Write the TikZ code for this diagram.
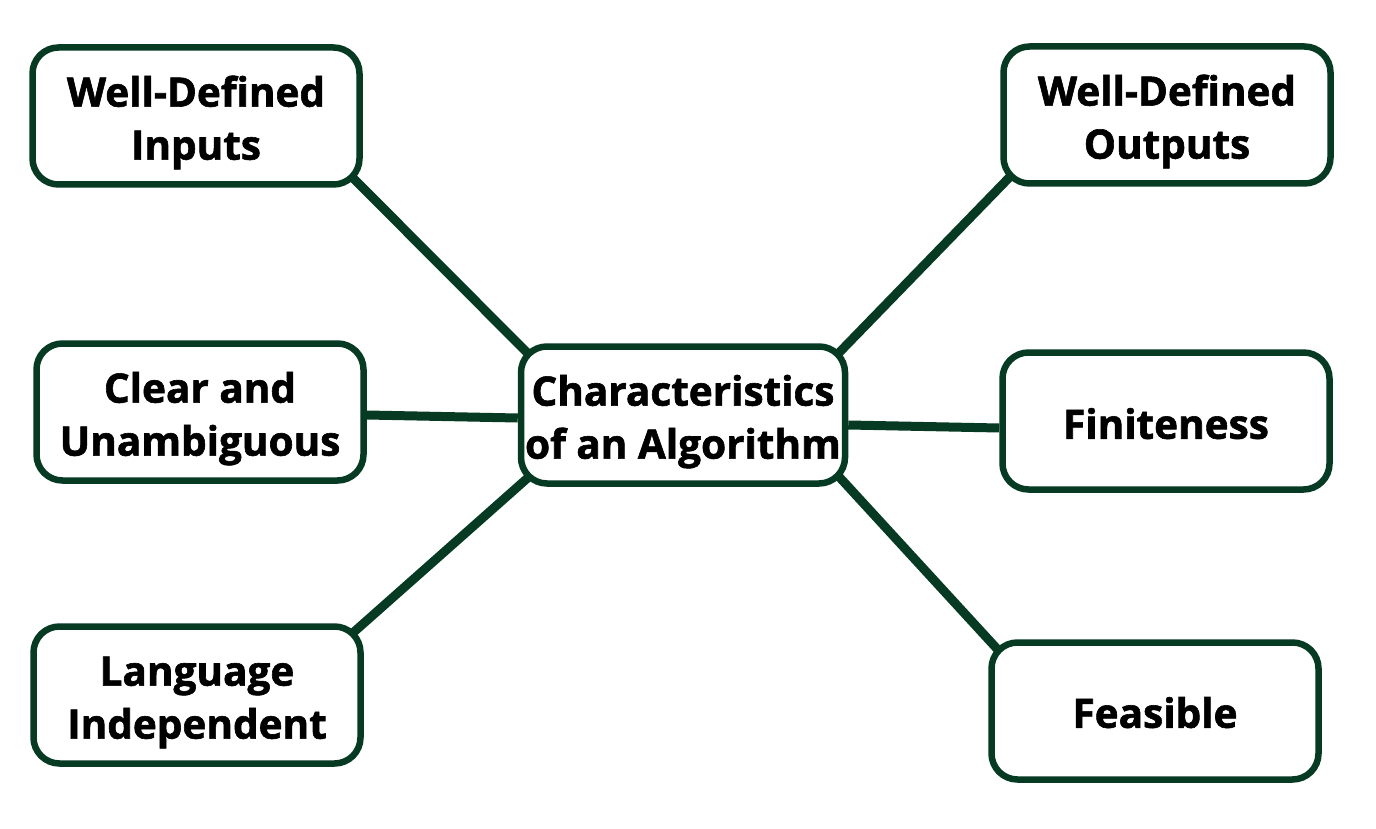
\documentclass[tikz,border=0pt]{standalone}
\usepackage{fontspec}
\setmainfont{Open Sans}[BoldFeatures={FakeBold=1.5}]
\usetikzlibrary{backgrounds,calc}
\definecolor{dg}{RGB}{6,58,35}
\newcommand{\topstrut}{\rule{0pt}{44pt}}
\begin{document}
\begin{tikzpicture}[x=1pt,y=-1pt,
  box/.style={draw=dg, line width=6.5pt, fill=white, rounded corners=26pt,
    minimum width=327pt, minimum height=137pt, align=center,
    font=\fontsize{40.5}{53}\selectfont\bfseries, text=black, inner sep=0pt},
  link/.style={draw=dg, line width=9pt, shorten <=-18pt, shorten >=-18pt}]
\useasboundingbox (0,0) rectangle (1376,829);
\node[box] (in)  at (196,116) {\topstrut Well-Defined\\Inputs};
\node[box] (cl)  at (200,412) {\topstrut Clear and\\Unambiguous};
\node[box] (la)  at (197,695) {\topstrut Language\\Independent};
\node[box, minimum width=324pt] (c) at (683,415) {\topstrut Characteristics\\of an Algorithm};
\node[box] (out) at (1167,115) {\topstrut Well-Defined\\Outputs};
\node[box] (fi)  at (1166,421) {\rule{0pt}{36pt}Finiteness};
\node[box] (fe)  at (1155,711) {\rule{0pt}{34pt}Feasible};
\begin{pgfonlayer}{background}
\fill[white] (0,0) rectangle (1376,829);
\draw[link] (in.south east) -- (c.north west);
\draw[link] (la.north east) -- (c.south west);
\draw[link] (c.north east) -- (out.south west);
\draw[link] (c.south east) -- (fe.north west);
\draw[dg, line width=9pt] ([yshift=-3pt]cl.east) -- ([yshift=-3pt]c.west);
\draw[dg, line width=9pt] ([yshift=-10pt]c.east) -- ([yshift=-7pt]fi.west);
\end{pgfonlayer}
\end{tikzpicture}
\end{document}
